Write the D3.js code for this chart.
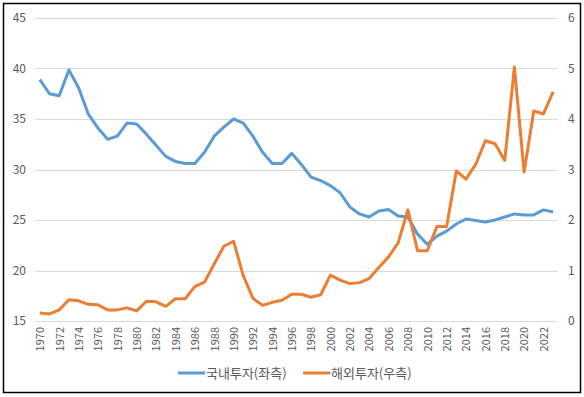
<!DOCTYPE html>
<html>
<head>
<meta charset="utf-8">
<script src="https://cdn.jsdelivr.net/npm/d3@7"></script>
<style>
  body { margin: 0; background: #fff; }
  svg text { font-family: "Noto Sans CJK KR", "Noto Sans", sans-serif; fill: #595959; }
</style>
</head>
<body>
<svg id="root" width="584" height="397"></svg>
<script>
// years on the x axis
const years = d3.range(1970, 2024);

// 국내투자 (left axis)
const domestic = [
    38.9, 37.5, 37.3, 39.85, 38.1, 35.5, 34.1, 33.0, 33.3, 34.6,
    34.5, 33.5, 32.4, 31.3, 30.8, 30.6, 30.6, 31.7, 33.3, 34.2,
    35.0, 34.6, 33.3, 31.7, 30.6, 30.6, 31.6, 30.5, 29.25, 28.9,
    28.4, 27.7, 26.3, 25.6, 25.3, 25.9, 26.05, 25.4, 25.3, 23.6,
    22.6, 23.4, 23.9, 24.6, 25.1, 24.95, 24.8, 25.0, 25.3, 25.6,
    25.5, 25.5, 26.0, 25.8
];

// 해외투자 (right axis)
const overseas = [
    0.16, 0.14, 0.22, 0.42, 0.40, 0.33, 0.32, 0.22, 0.22, 0.26,
    0.20, 0.39, 0.38, 0.29, 0.44, 0.44, 0.68, 0.77, 1.13, 1.48,
    1.58, 0.90, 0.45, 0.31, 0.37, 0.41, 0.53, 0.53, 0.47, 0.52,
    0.91, 0.81, 0.74, 0.76, 0.84, 1.06, 1.27, 1.55, 2.20, 1.39,
    1.39, 1.87, 1.87, 2.97, 2.81, 3.10, 3.57, 3.51, 3.18, 5.03,
    2.95, 4.16, 4.10, 4.54
];

const leftTicks = [15, 20, 25, 30, 35, 40, 45];
const rightTicks = [0, 1, 2, 3, 4, 5, 6];
const seriesNames = ['국내투자(좌측)', '해외투자(우측)'];
const colors = ['#5B9BD5', '#ED7D31'];

const margin = { top: 18, right: 26, bottom: 76, left: 35 };
const width = 584 - margin.left - margin.right;
const height = 397 - margin.top - margin.bottom;

const svg = d3.select('#root');

// outer frame
svg.append('rect')
    .attr('x', 3.5).attr('y', 3.5)
    .attr('width', 577).attr('height', 389)
    .attr('fill', 'none')
    .attr('stroke', '#000')
    .attr('stroke-width', 1.5);

const chart = svg.append('g')
    .attr('transform', `translate(${margin.left}, ${margin.top})`);

const xScale = d3.scalePoint()
    .domain(years)
    .range([0, width])
    .padding(0.5);

const yLeft = d3.scaleLinear().domain([15, 45]).range([height, 0]);
const yRight = d3.scaleLinear().domain([0, 6]).range([height, 0]);

// gridlines
chart.append('g')
    .selectAll('line')
    .data(leftTicks)
    .enter()
    .append('line')
        .attr('x1', 0)
        .attr('x2', width)
        .attr('y1', d => Math.round(yLeft(d)) + 0.5)
        .attr('y2', d => Math.round(yLeft(d)) + 0.5)
        .attr('stroke', '#d9d9d9')
        .attr('stroke-width', 1);

// left axis
const axisL = chart.append('g')
    .call(d3.axisLeft(yLeft).tickValues(leftTicks).tickSize(0).tickPadding(9));
axisL.select('.domain').remove();
axisL.selectAll('text').style('font-size', '12px');

// right axis
const axisR = chart.append('g')
    .attr('transform', `translate(${width}, 0)`)
    .call(d3.axisRight(yRight).tickValues(rightTicks).tickFormat(d3.format('d')).tickSize(0).tickPadding(10));
axisR.select('.domain').remove();
axisR.selectAll('text').style('font-size', '12px');

// x axis, labels every two years, rotated
const axisX = chart.append('g')
    .attr('transform', `translate(0, ${height})`)
    .call(d3.axisBottom(xScale).tickValues(years.filter(y => y % 2 === 0)).tickSize(0));
axisX.select('.domain').remove();
axisX.selectAll('text')
    .style('font-size', '11px')
    .attr('text-anchor', 'end')
    .attr('dy', '0.35em')
    .attr('transform', 'translate(0, 6) rotate(-90)')
    .attr('x', 0)
    .attr('y', 0);

// lines
const lineL = d3.line().x((d, i) => xScale(years[i])).y(d => yLeft(d));
const lineR = d3.line().x((d, i) => xScale(years[i])).y(d => yRight(d));

chart.append('path')
    .datum(domestic)
    .attr('d', lineL)
    .attr('fill', 'none')
    .attr('stroke', colors[0])
    .attr('stroke-width', 3)
    .attr('stroke-linejoin', 'round');

chart.append('path')
    .datum(overseas)
    .attr('d', lineR)
    .attr('fill', 'none')
    .attr('stroke', colors[1])
    .attr('stroke-width', 3)
    .attr('stroke-linejoin', 'round');

// legend
const legend = svg.append('g')
    .attr('transform', 'translate(178, 373)');
const legendX = [0, 125];
seriesNames.forEach((name, i) => {
    const g = legend.append('g').attr('transform', `translate(${legendX[i]}, 0)`);
    g.append('line')
        .attr('x1', 0).attr('x2', 27)
        .attr('y1', 0).attr('y2', 0)
        .attr('stroke', colors[i])
        .attr('stroke-width', 3);
    g.append('text')
        .attr('x', 28)
        .attr('y', 0)
        .attr('dy', '0.35em')
        .style('font-size', '13px')
        .text(name);
});
</script>
</body>
</html>
